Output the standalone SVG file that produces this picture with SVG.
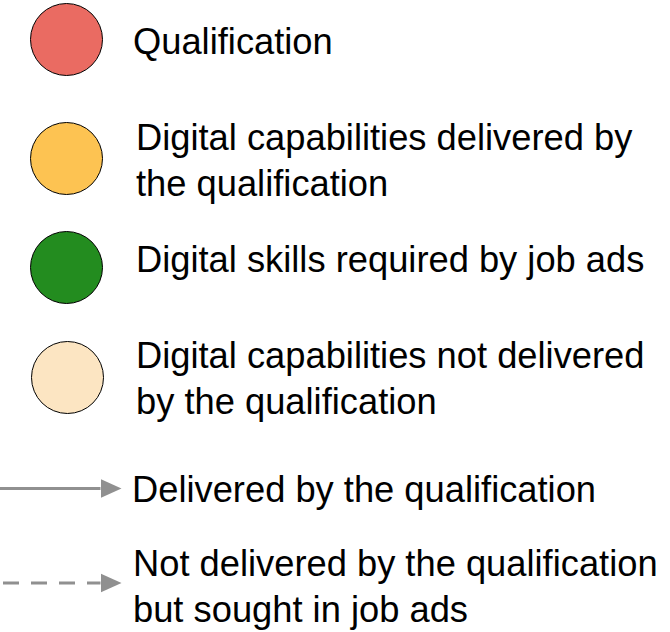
<svg xmlns="http://www.w3.org/2000/svg" width="670" height="632" viewBox="0 0 670 632">
<defs>
<style>
.lbl{font-family:"Liberation Sans",Arial,Helvetica,sans-serif;font-size:36.3px;fill:#000}
.c{stroke:#000;stroke-width:1}
.ln{stroke:#909090;stroke-width:3;fill:none}
</style>
<marker id="ah" markerWidth="21" markerHeight="21" viewBox="0 0 21 21" refX="0" refY="10.5" orient="auto" markerUnits="userSpaceOnUse">
<path d="M0,1 L21,10.5 L0,20 Z" fill="#909090"/>
</marker>
</defs>
<rect width="670" height="632" fill="#fff"/>
<g id="qualification">
<circle class="c" cx="66.5" cy="39.5" r="36" fill="#EA6B62"/>
<text class="lbl" x="133" y="54">Qualification</text>
</g>
<g id="delivered-capabilities">
<circle class="c" cx="66.5" cy="158.5" r="36" fill="#FDC352"/>
<text class="lbl" x="136" y="150">Digital capabilities delivered by</text>
<text class="lbl" x="136" y="196">the qualification</text>
</g>
<g id="job-skills">
<circle class="c" cx="66.5" cy="267.5" r="36" fill="#238C1F"/>
<text class="lbl" x="136" y="272">Digital skills required by job ads</text>
</g>
<g id="not-delivered-capabilities">
<circle class="c" cx="67.5" cy="377.5" r="36" fill="#FCE5C2"/>
<text class="lbl" x="136" y="368">Digital capabilities not delivered</text>
<text class="lbl" x="136" y="414">by the qualification</text>
</g>
<g id="connectors">
<line class="ln" x1="0" y1="488.5" x2="100.5" y2="488.5" marker-end="url(#ah)"/>
<line class="ln" x1="3" y1="583" x2="100.5" y2="583" stroke-dasharray="16 12" marker-end="url(#ah)"/>
</g>
<g id="legend-lines">
<text class="lbl" x="132" y="502">Delivered by the qualification</text>
<text class="lbl" x="133" y="576">Not delivered by the qualification</text>
<text class="lbl" x="133" y="622">but sought in job ads</text>
</g>
</svg>
